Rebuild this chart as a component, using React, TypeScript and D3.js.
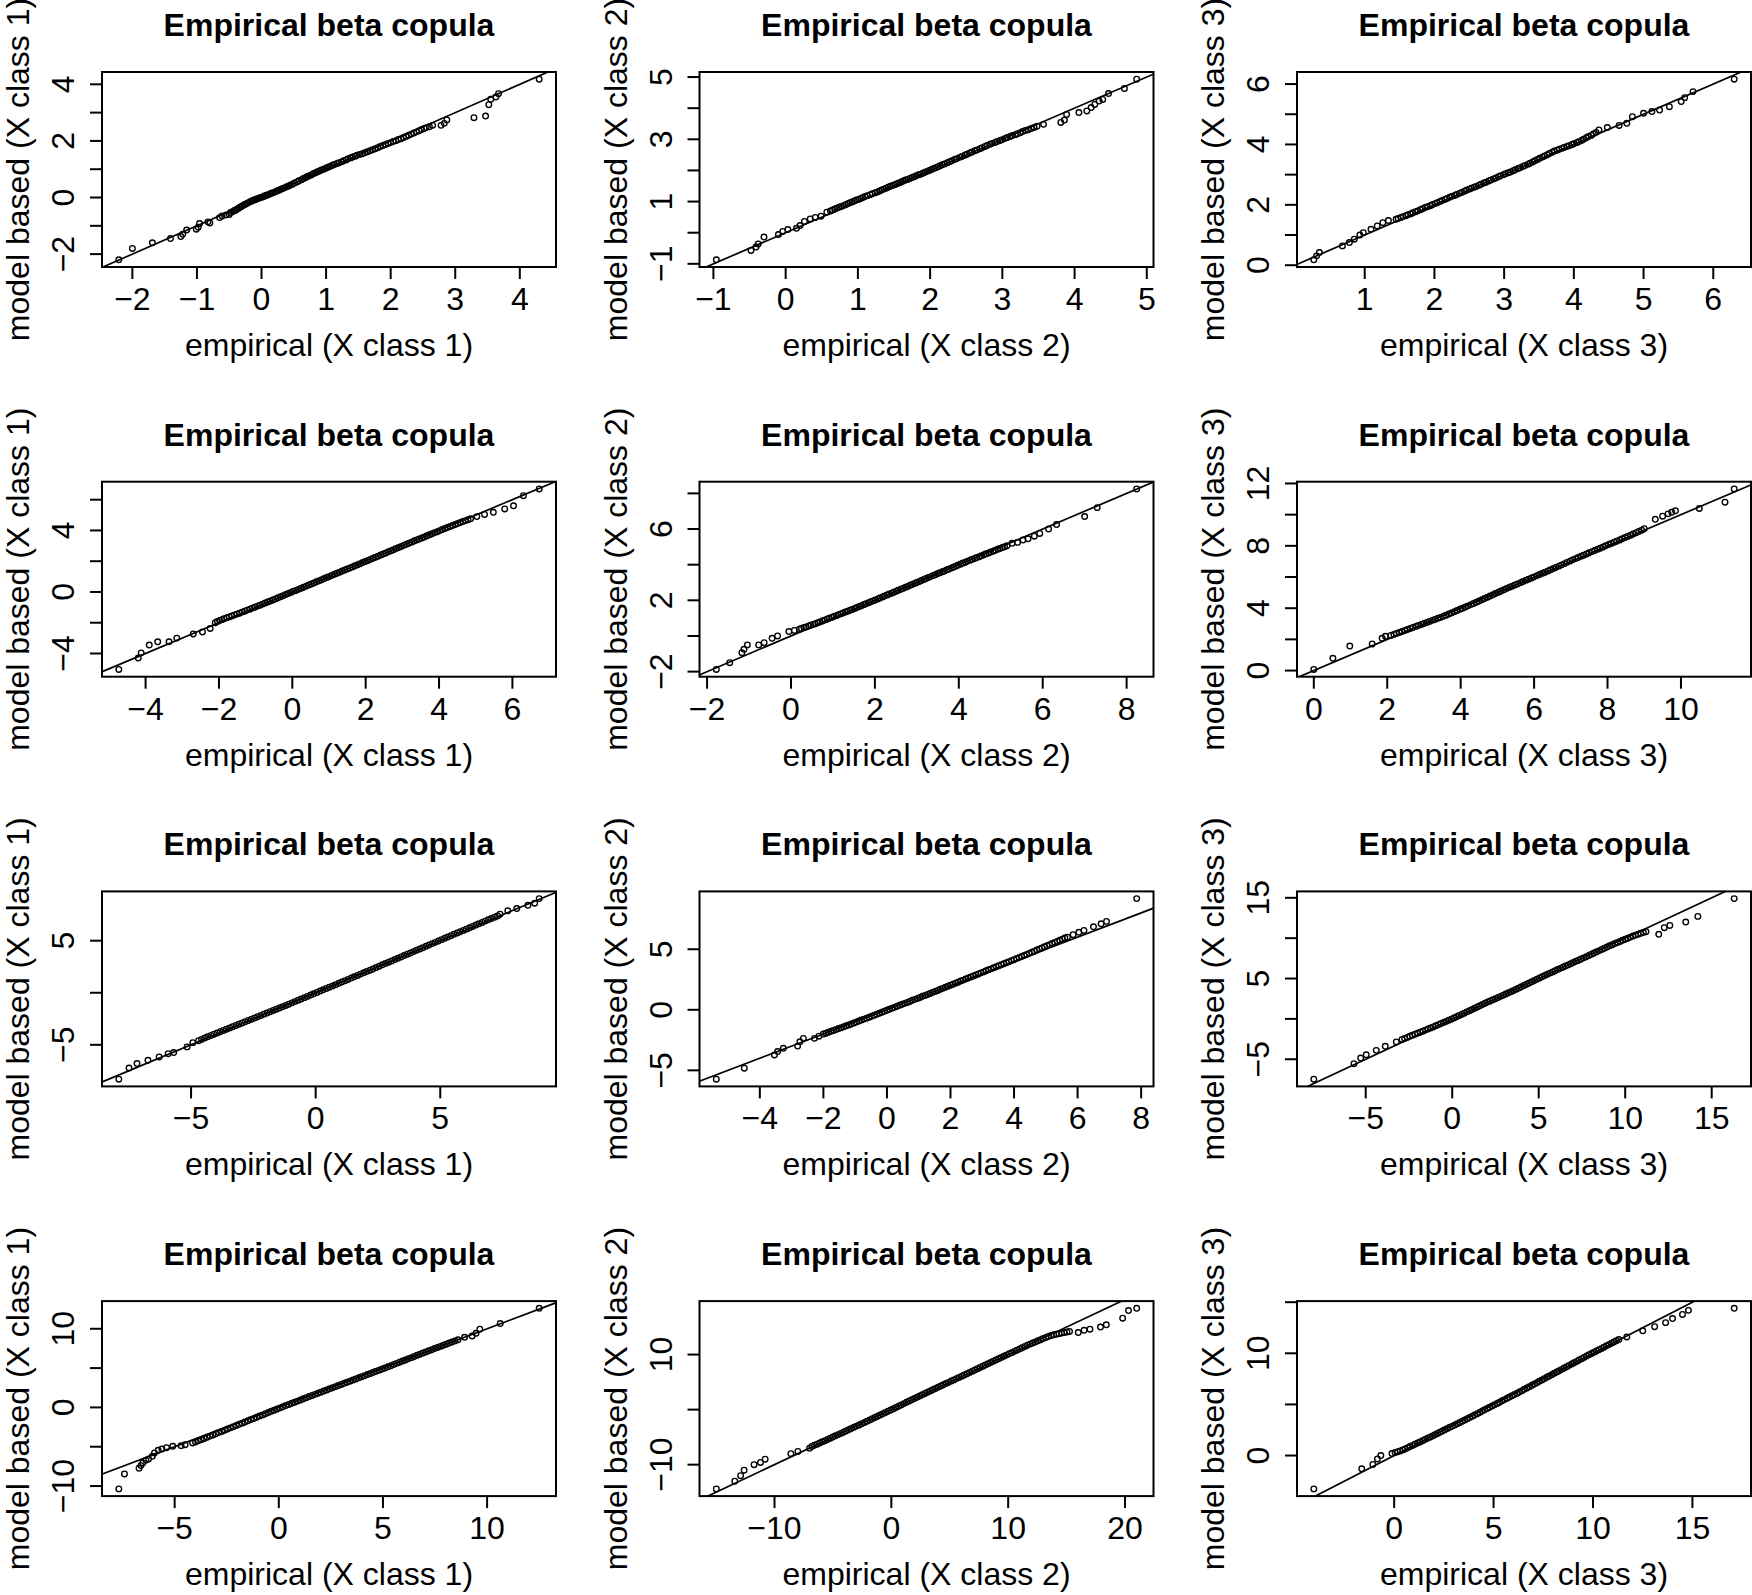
import React from 'react';
import * as d3 from 'd3';

const W = 1752;
const H = 1595;
const TITLE = 'Empirical beta copula';
const XLABELS = ['empirical (X class 1)', 'empirical (X class 2)', 'empirical (X class 3)'];
const YLABELS = ['model based (X class 1)', 'model based (X class 2)', 'model based (X class 3)'];

type P = [number, number][];

// row 1
const q11: P = [[-2.21,-2.2],[-2.0,-1.8],[-1.69,-1.6],[-1.41,-1.45],[-1.25,-1.38],[-1.22,-1.3],[-1.16,-1.15],[-1.01,-1.12],[-0.98,-1.05],[-0.96,-0.92],[-0.83,-0.86],[-0.8,-0.9],[-0.65,-0.71],[-0.61,-0.65],[-0.55,-0.62],[-0.5,-0.6],[-0.48,-0.53],
[-0.45,-0.5],[-0.42,-0.46],[-0.4,-0.45],[-0.38,-0.41],[-0.36,-0.39],[-0.34,-0.35],[-0.32,-0.33],[-0.3,-0.3],[-0.27,-0.26],[-0.25,-0.24],[-0.22,-0.2],[-0.2,-0.18],[-0.17,-0.14],[-0.15,-0.12],[-0.12,-0.09],[-0.1,-0.08],[-0.07,-0.05],[-0.05,-0.03],[-0.02,-0.01],[0.0,0.01],[0.03,0.03],[0.05,0.06],[0.08,0.08],[0.1,0.1],[0.13,0.12],[0.15,0.15],[0.18,0.17],[0.21,0.2],[0.24,0.23],[0.27,0.26],[0.3,0.29],[0.33,0.32],[0.36,0.35],[0.39,0.38],[0.42,0.41],[0.45,0.44],[0.48,0.47],[0.51,0.51],[0.55,0.55],[0.58,0.59],[0.62,0.63],[0.65,0.67],[0.68,0.7],[0.71,0.74],[0.74,0.77],[0.77,0.8],[0.8,0.84],[0.83,0.87],[0.86,0.9],[0.89,0.93],[0.92,0.96],[0.95,0.99],[0.98,1.02],[1.01,1.05],[1.04,1.08],[1.07,1.11],[1.1,1.14],[1.13,1.17],[1.17,1.2],[1.2,1.23],[1.24,1.26],[1.27,1.3],[1.31,1.33],[1.34,1.37],[1.38,1.4],[1.41,1.43],[1.45,1.46],[1.48,1.49],[1.52,1.52],[1.56,1.55],[1.6,1.58],[1.64,1.62],[1.68,1.65],[1.72,1.69],[1.76,1.72],[1.8,1.76],[1.84,1.8],[1.88,1.84],[1.92,1.87],[1.96,1.91],[2.0,1.94],[2.04,1.98],[2.08,2.01],[2.12,2.05],[2.16,2.08],[2.2,2.12],[2.24,2.16],[2.28,2.2],[2.32,2.24],[2.36,2.28],[2.4,2.32],[2.44,2.36],[2.48,2.4],[2.52,2.44],[2.55,2.47],
[2.6,2.5],[2.65,2.55],[2.78,2.55],[2.83,2.62],[2.87,2.74],[3.29,2.82],[3.47,2.88],[3.52,3.28],[3.55,3.47],[3.63,3.55],[3.67,3.67],[4.3,4.18]];
const xt11 = [-2,-1,0,1,2,3,4];
const yt11 = [-2,-1,0,1,2,3,4];
const yl11 = [-2,0,2,4];

const q12: P = [[-0.96,-0.87],[-0.48,-0.57],[-0.41,-0.46],[-0.38,-0.36],[-0.3,-0.14],[-0.1,-0.06],[-0.04,0.04],[0.03,0.1],[0.15,0.14],[0.2,0.23],[0.26,0.36],[0.34,0.44],[0.41,0.49],[0.49,0.53],[0.57,0.66],
[0.62,0.7],[0.65,0.73],[0.68,0.76],[0.71,0.79],[0.74,0.82],[0.77,0.84],[0.8,0.87],[0.83,0.9],[0.86,0.93],[0.89,0.96],[0.92,0.99],[0.95,1.02],[0.98,1.05],[1.01,1.07],[1.04,1.1],[1.07,1.13],[1.1,1.16],[1.13,1.19],[1.17,1.22],[1.2,1.25],[1.24,1.28],[1.27,1.31],[1.3,1.34],[1.33,1.37],[1.36,1.4],[1.39,1.43],[1.42,1.46],[1.45,1.49],[1.48,1.52],[1.51,1.54],[1.54,1.57],[1.57,1.6],[1.6,1.63],[1.63,1.66],[1.66,1.69],[1.69,1.71],[1.72,1.74],[1.75,1.77],[1.78,1.8],[1.81,1.83],[1.84,1.86],[1.87,1.88],[1.9,1.91],[1.93,1.94],[1.96,1.97],[1.99,2.0],[2.02,2.03],[2.05,2.06],[2.08,2.09],[2.11,2.12],[2.14,2.15],[2.17,2.18],[2.2,2.21],[2.24,2.25],[2.27,2.28],[2.3,2.31],[2.34,2.35],[2.37,2.38],[2.41,2.42],[2.44,2.45],[2.48,2.49],[2.51,2.52],[2.55,2.56],[2.58,2.59],[2.62,2.63],[2.65,2.66],[2.69,2.7],[2.72,2.73],[2.76,2.77],[2.79,2.8],[2.83,2.84],[2.86,2.87],[2.9,2.9],[2.93,2.93],[2.97,2.96],[3.0,2.99],[3.04,3.03],[3.07,3.06],[3.11,3.09],[3.14,3.12],[3.18,3.15],[3.21,3.18],[3.25,3.21],[3.28,3.25],[3.32,3.28],[3.36,3.31],[3.4,3.35],[3.44,3.38],[3.48,3.42],
[3.57,3.48],[3.81,3.54],[3.86,3.62],[3.89,3.8],[4.06,3.86],[4.17,3.91],[4.23,4.02],[4.28,4.12],[4.34,4.23],[4.39,4.28],[4.47,4.47],[4.69,4.63],[4.86,4.93]];
const xt12 = [-1,0,1,2,3,4,5];
const yt12 = [-1,0,1,2,3,4,5];
const yl12 = [-1,1,3,5];

const q13: P = [[0.27,0.18],[0.31,0.31],[0.35,0.42],[0.68,0.64],[0.78,0.75],[0.85,0.86],[0.93,1.0],[0.98,1.08],[1.09,1.19],[1.18,1.3],[1.26,1.41],[1.34,1.48],
[1.45,1.52],[1.48,1.55],[1.52,1.58],[1.55,1.61],[1.59,1.64],[1.62,1.67],[1.66,1.7],[1.69,1.74],[1.73,1.77],[1.76,1.8],[1.8,1.84],[1.83,1.87],[1.87,1.91],[1.9,1.94],[1.94,1.97],[1.97,2.0],[2.01,2.04],[2.04,2.07],[2.08,2.11],[2.11,2.14],[2.15,2.18],[2.18,2.21],[2.22,2.25],[2.25,2.28],[2.29,2.31],[2.32,2.34],[2.36,2.38],[2.39,2.41],[2.43,2.45],[2.46,2.48],[2.5,2.52],[2.53,2.55],[2.57,2.58],[2.6,2.61],[2.64,2.65],[2.67,2.68],[2.71,2.72],[2.74,2.75],[2.78,2.79],[2.81,2.82],[2.85,2.86],[2.88,2.89],[2.92,2.93],[2.95,2.96],[2.99,3.0],[3.02,3.03],[3.06,3.06],[3.09,3.09],[3.13,3.13],[3.16,3.16],[3.2,3.2],[3.23,3.23],[3.27,3.27],[3.3,3.3],[3.34,3.34],[3.37,3.38],[3.41,3.42],[3.44,3.46],[3.48,3.5],[3.51,3.54],[3.55,3.58],[3.58,3.62],[3.62,3.66],[3.65,3.7],[3.69,3.74],[3.72,3.78],[3.76,3.81],[3.79,3.84],[3.83,3.87],[3.86,3.9],[3.9,3.93],[3.93,3.96],[3.97,3.99],[4.0,4.02],[4.04,4.06],[4.07,4.09],[4.11,4.13],[4.14,4.17],[4.18,4.22],[4.21,4.26],[4.25,4.3],[4.28,4.35],[4.32,4.4],[4.36,4.48],
[4.48,4.56],[4.65,4.63],[4.76,4.7],[4.84,4.92],[5.0,5.03],[5.12,5.09],[5.23,5.14],[5.37,5.25],[5.54,5.42],[5.59,5.55],[5.71,5.75],[6.3,6.16]];
const xt13 = [1,2,3,4,5,6];
const yt13 = [0,1,2,3,4,5,6];
const yl13 = [0,2,4,6];

// row 2
const q21: P = [[-4.73,-5.04],[-4.2,-4.3],[-4.12,-3.96],[-3.9,-3.45],[-3.67,-3.24],[-3.36,-3.24],[-3.15,-3.0],[-2.7,-2.73],[-2.45,-2.6],[-2.24,-2.37],
[-2.1,-2.0],[-2.04,-1.92],[-1.98,-1.85],[-1.92,-1.8],[-1.86,-1.74],[-1.79,-1.68],[-1.72,-1.62],[-1.65,-1.56],[-1.58,-1.5],[-1.51,-1.44],[-1.44,-1.38],[-1.37,-1.31],[-1.3,-1.25],[-1.23,-1.18],[-1.16,-1.12],[-1.09,-1.05],[-1.02,-0.99],[-0.95,-0.92],[-0.88,-0.86],[-0.81,-0.79],[-0.74,-0.72],[-0.67,-0.65],[-0.6,-0.59],[-0.53,-0.52],[-0.46,-0.45],[-0.39,-0.38],[-0.32,-0.31],[-0.25,-0.24],[-0.18,-0.17],[-0.11,-0.1],[-0.04,-0.03],[0.03,0.04],[0.1,0.1],[0.17,0.17],[0.24,0.24],[0.31,0.31],[0.38,0.38],[0.45,0.45],[0.52,0.52],[0.59,0.59],[0.66,0.66],[0.73,0.73],[0.8,0.8],[0.87,0.87],[0.94,0.94],[1.01,1.01],[1.08,1.08],[1.15,1.15],[1.22,1.22],[1.29,1.29],[1.36,1.36],[1.43,1.43],[1.5,1.5],[1.57,1.56],[1.64,1.63],[1.71,1.7],[1.78,1.77],[1.85,1.84],[1.92,1.91],[1.99,1.98],[2.06,2.05],[2.13,2.12],[2.2,2.19],[2.27,2.26],[2.34,2.33],[2.41,2.4],[2.48,2.47],[2.55,2.54],[2.62,2.61],[2.69,2.68],[2.76,2.75],[2.83,2.82],[2.9,2.89],[2.97,2.96],[3.04,3.03],[3.11,3.1],[3.18,3.17],[3.25,3.24],[3.32,3.31],[3.39,3.38],[3.46,3.45],[3.53,3.51],[3.6,3.58],[3.67,3.65],[3.74,3.72],[3.81,3.79],[3.88,3.86],[3.95,3.92],[4.02,3.99],[4.09,4.06],[4.16,4.13],[4.23,4.19],[4.3,4.26],[4.37,4.32],[4.44,4.39],[4.51,4.45],[4.58,4.52],[4.65,4.58],[4.72,4.64],[4.79,4.7],[4.86,4.76],
[5.03,4.9],[5.24,5.04],[5.48,5.18],[5.79,5.4],[6.03,5.6],[6.3,6.26],[6.73,6.7]];
const xt21 = [-4,-2,0,2,4,6];
const yt21 = [-4,-2,0,2,4,6];
const yl21 = [-4,0,4];

const q22: P = [[-1.78,-1.88],[-1.46,-1.5],[-1.17,-0.94],[-1.12,-0.75],[-1.04,-0.5],[-0.77,-0.5],[-0.64,-0.38],[-0.45,-0.13],[-0.32,0.0],[-0.05,0.25],[0.08,0.31],
[0.2,0.38],[0.25,0.42],[0.31,0.47],[0.36,0.51],[0.42,0.56],[0.47,0.6],[0.53,0.65],[0.58,0.69],[0.64,0.74],[0.69,0.79],[0.75,0.84],[0.8,0.89],[0.86,0.94],[0.91,0.99],[0.97,1.04],[1.02,1.09],[1.08,1.14],[1.13,1.19],[1.19,1.24],[1.24,1.29],[1.3,1.34],[1.35,1.39],[1.41,1.44],[1.46,1.49],[1.52,1.54],[1.57,1.6],[1.63,1.65],[1.68,1.7],[1.74,1.76],[1.79,1.81],[1.85,1.87],[1.9,1.92],[1.96,1.97],[2.01,2.02],[2.07,2.08],[2.12,2.13],[2.18,2.19],[2.23,2.24],[2.29,2.3],[2.34,2.35],[2.4,2.4],[2.45,2.45],[2.51,2.51],[2.56,2.56],[2.62,2.62],[2.67,2.67],[2.73,2.73],[2.78,2.78],[2.84,2.84],[2.89,2.89],[2.95,2.95],[3.0,3.0],[3.06,3.06],[3.11,3.11],[3.17,3.17],[3.22,3.22],[3.28,3.28],[3.33,3.33],[3.39,3.39],[3.44,3.44],[3.5,3.5],[3.55,3.55],[3.61,3.6],[3.66,3.65],[3.72,3.71],[3.77,3.76],[3.83,3.82],[3.88,3.87],[3.94,3.93],[3.99,3.98],[4.05,4.04],[4.1,4.09],[4.16,4.14],[4.21,4.2],[4.27,4.25],[4.32,4.3],[4.38,4.35],[4.43,4.4],[4.49,4.45],[4.54,4.5],[4.6,4.56],[4.65,4.61],[4.71,4.66],[4.76,4.71],[4.82,4.76],[4.87,4.81],[4.93,4.86],[4.98,4.91],[5.04,4.96],[5.09,5.01],[5.15,5.06],
[5.27,5.2],[5.4,5.25],[5.53,5.38],[5.65,5.45],[5.8,5.6],[5.93,5.75],[6.14,6.0],[6.33,6.25],[7.0,6.7],[7.3,7.2],[8.24,8.25]];
const xt22 = [-2,0,2,4,6,8];
const yt22 = [-2,0,2,4,6,8];
const yl22 = [-2,2,6];

const q23: P = [[0.0,0.07],[0.52,0.79],[0.98,1.57],[1.59,1.71],[1.86,2.07],[1.95,2.2],
[2.1,2.25],[2.18,2.32],[2.25,2.38],[2.33,2.44],[2.4,2.5],[2.48,2.57],[2.55,2.63],[2.63,2.7],[2.7,2.76],[2.78,2.83],[2.85,2.89],[2.93,2.96],[3.0,3.02],[3.08,3.09],[3.15,3.15],[3.23,3.22],[3.3,3.28],[3.38,3.35],[3.45,3.41],[3.53,3.48],[3.6,3.55],[3.68,3.63],[3.75,3.7],[3.83,3.78],[3.9,3.85],[3.98,3.93],[4.05,4.0],[4.13,4.08],[4.2,4.15],[4.28,4.23],[4.35,4.3],[4.43,4.38],[4.5,4.46],[4.58,4.54],[4.65,4.62],[4.73,4.7],[4.8,4.78],[4.88,4.86],[4.95,4.94],[5.03,5.02],[5.1,5.1],[5.18,5.18],[5.25,5.26],[5.33,5.34],[5.4,5.41],[5.48,5.49],[5.55,5.56],[5.63,5.64],[5.7,5.71],[5.78,5.79],[5.85,5.86],[5.93,5.94],[6.0,6.01],[6.08,6.09],[6.15,6.16],[6.23,6.24],[6.3,6.31],[6.38,6.39],[6.45,6.46],[6.53,6.54],[6.6,6.62],[6.68,6.7],[6.75,6.78],[6.83,6.86],[6.9,6.94],[6.98,7.02],[7.05,7.1],[7.13,7.18],[7.2,7.25],[7.28,7.33],[7.35,7.4],[7.43,7.48],[7.5,7.55],[7.58,7.63],[7.65,7.7],[7.73,7.78],[7.8,7.85],[7.88,7.93],[7.95,8.0],[8.03,8.08],[8.1,8.15],[8.18,8.23],[8.25,8.3],[8.33,8.38],[8.4,8.45],[8.48,8.53],[8.55,8.6],[8.63,8.68],[8.7,8.76],[8.78,8.84],[8.85,8.92],[8.93,9.0],[9.0,9.1],
[9.3,9.7],[9.5,9.9],[9.65,10.05],[9.75,10.15],[9.85,10.25],[10.5,10.4],[11.2,10.8],[11.45,11.65]];
const xt23 = [0,2,4,6,8,10];
const yt23 = [0,2,4,6,8,10,12];
const yl23 = [0,4,8,12];

// row 3
const q31: P = [[-7.9,-8.3],[-7.49,-7.23],[-7.17,-6.8],[-6.73,-6.49],[-6.28,-6.17],[-5.92,-5.85],[-5.7,-5.74],[-5.16,-5.2],[-4.93,-4.79],
[-4.7,-4.6],[-4.58,-4.48],[-4.45,-4.35],[-4.33,-4.23],[-4.2,-4.1],[-4.08,-3.98],[-3.95,-3.86],[-3.83,-3.74],[-3.7,-3.62],[-3.58,-3.5],[-3.45,-3.38],[-3.33,-3.26],[-3.2,-3.14],[-3.08,-3.02],[-2.95,-2.9],[-2.83,-2.78],[-2.7,-2.66],[-2.58,-2.54],[-2.45,-2.42],[-2.33,-2.3],[-2.2,-2.18],[-2.08,-2.06],[-1.95,-1.94],[-1.83,-1.82],[-1.7,-1.7],[-1.58,-1.58],[-1.45,-1.46],[-1.33,-1.34],[-1.2,-1.22],[-1.08,-1.1],[-0.95,-0.97],[-0.83,-0.85],[-0.7,-0.72],[-0.58,-0.6],[-0.45,-0.47],[-0.33,-0.35],[-0.2,-0.22],[-0.08,-0.1],[0.05,0.03],[0.18,0.16],[0.3,0.28],[0.43,0.41],[0.55,0.53],[0.68,0.66],[0.8,0.78],[0.93,0.91],[1.05,1.03],[1.18,1.16],[1.3,1.28],[1.43,1.41],[1.55,1.53],[1.68,1.66],[1.8,1.79],[1.93,1.92],[2.05,2.04],[2.18,2.17],[2.3,2.29],[2.43,2.42],[2.55,2.55],[2.68,2.68],[2.8,2.8],[2.93,2.93],[3.05,3.06],[3.18,3.19],[3.3,3.31],[3.43,3.44],[3.55,3.57],[3.68,3.7],[3.8,3.82],[3.93,3.95],[4.05,4.08],[4.18,4.21],[4.3,4.33],[4.43,4.46],[4.55,4.59],[4.68,4.72],[4.8,4.84],[4.93,4.97],[5.05,5.1],[5.18,5.23],[5.3,5.35],[5.43,5.48],[5.55,5.61],[5.68,5.74],[5.8,5.86],[5.93,5.99],[6.05,6.11],[6.18,6.24],[6.3,6.37],[6.43,6.5],[6.55,6.62],[6.68,6.75],[6.8,6.88],[6.93,7.01],[7.05,7.13],[7.18,7.26],[7.3,7.38],
[7.4,7.55],[7.71,7.87],[8.07,8.09],[8.52,8.4],[8.79,8.6],[8.97,9.04]];
const xt31 = [-5,0,5];
const yt31 = [-5,0,5];
const yl31 = [-5,5];

const q32: P = [[-5.37,-5.73],[-4.49,-4.82],[-3.54,-3.73],[-3.44,-3.45],[-3.26,-3.18],[-2.81,-3.0],[-2.74,-2.64],[-2.63,-2.36],[-2.28,-2.36],[-2.14,-2.18],
[-2.0,-2.0],[-1.92,-1.93],[-1.84,-1.86],[-1.76,-1.78],[-1.68,-1.71],[-1.6,-1.63],[-1.52,-1.55],[-1.44,-1.48],[-1.36,-1.4],[-1.28,-1.32],[-1.2,-1.25],[-1.12,-1.17],[-1.04,-1.09],[-0.96,-1.01],[-0.88,-0.93],[-0.8,-0.85],[-0.72,-0.77],[-0.64,-0.69],[-0.56,-0.61],[-0.48,-0.53],[-0.4,-0.45],[-0.32,-0.37],[-0.24,-0.29],[-0.16,-0.2],[-0.08,-0.12],[0.0,-0.04],[0.08,0.04],[0.16,0.12],[0.24,0.2],[0.32,0.29],[0.4,0.37],[0.48,0.45],[0.56,0.53],[0.64,0.61],[0.72,0.69],[0.8,0.78],[0.88,0.86],[0.96,0.94],[1.04,1.02],[1.12,1.11],[1.2,1.19],[1.28,1.27],[1.36,1.35],[1.44,1.44],[1.52,1.52],[1.6,1.6],[1.68,1.69],[1.76,1.77],[1.84,1.86],[1.92,1.94],[2.0,2.03],[2.08,2.11],[2.16,2.2],[2.24,2.28],[2.32,2.37],[2.4,2.45],[2.48,2.54],[2.56,2.62],[2.64,2.71],[2.72,2.79],[2.8,2.88],[2.88,2.96],[2.96,3.05],[3.04,3.13],[3.12,3.22],[3.2,3.3],[3.28,3.38],[3.36,3.47],[3.44,3.55],[3.52,3.64],[3.6,3.72],[3.68,3.8],[3.76,3.89],[3.84,3.97],[3.92,4.06],[4.0,4.14],[4.08,4.23],[4.16,4.31],[4.24,4.4],[4.32,4.48],[4.4,4.57],[4.48,4.66],[4.56,4.75],[4.64,4.84],[4.72,4.93],[4.8,5.02],[4.88,5.11],[4.96,5.2],[5.04,5.29],[5.12,5.38],[5.2,5.47],[5.28,5.56],[5.36,5.65],[5.44,5.74],[5.52,5.83],[5.6,5.92],[5.68,6.0],
[5.86,6.2],[6.04,6.4],[6.2,6.55],[6.5,6.85],[6.74,7.1],[6.91,7.3],[7.86,9.18]];
const xt32 = [-4,-2,0,2,4,6,8];
const yt32 = [-5,0,5];
const yl32 = [-5,0,5];

const q33: P = [[-8.0,-7.47],[-5.68,-5.55],[-5.29,-4.85],[-4.97,-4.45],[-4.39,-3.9],[-3.87,-3.4],[-3.23,-2.85],
[-2.9,-2.55],[-2.75,-2.42],[-2.6,-2.3],[-2.45,-2.16],[-2.3,-2.03],[-2.15,-1.9],[-2.0,-1.78],[-1.85,-1.65],[-1.7,-1.52],[-1.55,-1.39],[-1.4,-1.26],[-1.25,-1.13],[-1.1,-1.0],[-0.95,-0.86],[-0.8,-0.72],[-0.65,-0.58],[-0.5,-0.45],[-0.35,-0.31],[-0.2,-0.17],[-0.05,-0.03],[0.1,0.12],[0.25,0.27],[0.4,0.42],[0.55,0.56],[0.7,0.71],[0.85,0.87],[1.0,1.02],[1.15,1.16],[1.3,1.31],[1.45,1.47],[1.6,1.62],[1.75,1.78],[1.9,1.93],[2.05,2.08],[2.2,2.22],[2.35,2.36],[2.5,2.5],[2.65,2.65],[2.8,2.79],[2.95,2.94],[3.1,3.08],[3.25,3.23],[3.4,3.37],[3.55,3.52],[3.7,3.68],[3.85,3.83],[4.0,3.98],[4.15,4.14],[4.3,4.29],[4.45,4.45],[4.6,4.6],[4.75,4.76],[4.9,4.91],[5.05,5.07],[5.2,5.22],[5.35,5.37],[5.5,5.52],[5.65,5.67],[5.8,5.82],[5.95,5.97],[6.1,6.11],[6.25,6.26],[6.4,6.4],[6.55,6.55],[6.7,6.69],[6.85,6.84],[7.0,6.98],[7.15,7.13],[7.3,7.27],[7.45,7.42],[7.6,7.56],[7.75,7.71],[7.9,7.86],[8.05,8.01],[8.2,8.16],[8.35,8.31],[8.5,8.46],[8.65,8.61],[8.8,8.76],[8.95,8.9],[9.1,9.05],[9.25,9.19],[9.4,9.33],[9.55,9.47],[9.7,9.6],[9.85,9.74],[10.0,9.87],[10.15,10.0],[10.3,10.13],[10.45,10.26],[10.6,10.38],[10.75,10.49],[10.9,10.6],[11.05,10.7],[11.2,10.8],
[11.94,10.48],[12.26,11.3],[12.58,11.58],[13.5,12.0],[14.2,12.7],[16.3,14.9]];
const xt33 = [-5,0,5,10,15];
const yt33 = [-5,0,5,10,15];
const yl33 = [-5,5,15];

// row 4
const q41: P = [[-7.68,-10.36],[-7.41,-8.46],[-6.71,-7.74],[-6.62,-7.4],[-6.53,-7.06],[-6.38,-6.72],[-6.25,-6.55],[-6.07,-6.22],[-5.97,-5.79],[-5.79,-5.45],[-5.61,-5.29],[-5.39,-5.12],[-5.09,-4.95],[-4.69,-4.86],[-4.5,-4.74],[-4.14,-4.52],
[-4.0,-4.4],[-3.86,-4.25],[-3.72,-4.1],[-3.58,-3.95],[-3.44,-3.8],[-3.3,-3.65],[-3.16,-3.5],[-3.02,-3.35],[-2.88,-3.2],[-2.74,-3.05],[-2.6,-2.9],[-2.46,-2.75],[-2.32,-2.6],[-2.18,-2.45],[-2.04,-2.3],[-1.9,-2.15],[-1.76,-2.0],[-1.62,-1.85],[-1.48,-1.7],[-1.34,-1.55],[-1.2,-1.4],[-1.06,-1.25],[-0.92,-1.1],[-0.78,-0.95],[-0.64,-0.8],[-0.5,-0.65],[-0.36,-0.5],[-0.22,-0.35],[-0.08,-0.2],[0.06,-0.06],[0.2,0.08],[0.34,0.23],[0.48,0.38],[0.62,0.52],[0.76,0.66],[0.9,0.8],[1.04,0.95],[1.18,1.09],[1.32,1.24],[1.46,1.38],[1.6,1.52],[1.74,1.66],[1.88,1.8],[2.02,1.94],[2.16,2.08],[2.3,2.22],[2.44,2.36],[2.58,2.5],[2.72,2.64],[2.86,2.78],[3.0,2.92],[3.14,3.06],[3.28,3.2],[3.42,3.34],[3.56,3.48],[3.7,3.62],[3.84,3.76],[3.98,3.9],[4.12,4.04],[4.26,4.18],[4.4,4.32],[4.54,4.46],[4.68,4.6],[4.82,4.74],[4.96,4.88],[5.1,5.02],[5.24,5.17],[5.38,5.31],[5.52,5.46],[5.66,5.6],[5.8,5.75],[5.94,5.9],[6.08,6.04],[6.22,6.19],[6.36,6.33],[6.5,6.48],[6.64,6.62],[6.78,6.77],[6.92,6.91],[7.06,7.05],[7.2,7.2],[7.34,7.34],[7.48,7.48],[7.62,7.62],[7.76,7.76],[7.9,7.9],[8.04,8.04],[8.18,8.18],[8.32,8.32],[8.46,8.46],[8.6,8.6],
[8.92,8.92],[9.28,9.09],[9.47,9.43],[9.65,9.94],[10.63,10.66],[12.5,12.6]];
const xt41 = [-5,0,5,10];
const yt41 = [-10,-5,0,5,10];
const yl41 = [-10,0,10];

const q42: P = [[-14.98,-14.4],[-13.4,-13.0],[-12.9,-12.0],[-12.6,-11.0],[-11.75,-10.0],[-11.2,-9.6],[-10.8,-9.0],[-8.6,-8.0],[-8.0,-7.6],[-7.0,-7.0],
[-6.8,-6.7],[-6.58,-6.49],[-6.35,-6.28],[-6.13,-6.07],[-5.9,-5.85],[-5.68,-5.64],[-5.45,-5.42],[-5.23,-5.2],[-5.0,-4.98],[-4.78,-4.76],[-4.55,-4.54],[-4.33,-4.32],[-4.1,-4.1],[-3.88,-3.88],[-3.65,-3.66],[-3.43,-3.44],[-3.2,-3.22],[-2.98,-3.0],[-2.75,-2.78],[-2.53,-2.56],[-2.3,-2.33],[-2.08,-2.11],[-1.85,-1.88],[-1.63,-1.66],[-1.4,-1.43],[-1.18,-1.21],[-0.95,-0.98],[-0.73,-0.75],[-0.5,-0.52],[-0.28,-0.29],[-0.05,-0.06],[0.18,0.17],[0.4,0.4],[0.63,0.63],[0.85,0.86],[1.08,1.09],[1.3,1.32],[1.53,1.55],[1.75,1.78],[1.98,2.01],[2.2,2.24],[2.43,2.47],[2.65,2.7],[2.88,2.93],[3.1,3.15],[3.33,3.38],[3.55,3.6],[3.78,3.83],[4.0,4.05],[4.23,4.28],[4.45,4.5],[4.68,4.73],[4.9,4.95],[5.13,5.18],[5.35,5.4],[5.58,5.63],[5.8,5.85],[6.03,6.08],[6.25,6.3],[6.48,6.53],[6.7,6.75],[6.93,6.98],[7.15,7.2],[7.38,7.43],[7.6,7.65],[7.83,7.88],[8.05,8.1],[8.28,8.33],[8.5,8.55],[8.73,8.78],[8.95,9.0],[9.18,9.23],[9.4,9.45],[9.63,9.68],[9.85,9.9],[10.08,10.13],[10.3,10.35],[10.53,10.58],[10.75,10.8],[10.98,11.03],[11.2,11.25],[11.43,11.48],[11.65,11.7],[11.88,11.9],[12.1,12.1],[12.33,12.3],[12.55,12.5],[12.78,12.7],[13.0,12.9],[13.23,13.1],[13.45,13.3],[13.68,13.45],[13.9,13.6],[14.13,13.7],[14.35,13.8],[14.58,13.9],[14.8,14.0],[15.03,14.1],[15.25,14.2],
[16.0,14.0],[16.5,14.4],[17.0,14.6],[17.9,15.0],[18.4,15.4],[19.8,16.6],[20.3,18.0],[21.0,18.4]];
const xt42 = [-10,0,10,20];
const yt42 = [-10,0,10];
const yl42 = [-10,10];

const q43: P = [[-4.04,-3.26],[-1.63,-1.3],[-1.07,-0.87],[-0.84,-0.33],[-0.67,0.0],[-0.11,0.2],
[0.05,0.3],[0.18,0.38],[0.3,0.45],[0.43,0.55],[0.55,0.65],[0.68,0.76],[0.8,0.88],[0.93,0.99],[1.05,1.1],[1.18,1.22],[1.3,1.33],[1.43,1.45],[1.55,1.57],[1.68,1.69],[1.8,1.8],[1.93,1.92],[2.05,2.04],[2.18,2.16],[2.3,2.28],[2.43,2.4],[2.55,2.52],[2.68,2.64],[2.8,2.76],[2.93,2.88],[3.05,3.0],[3.18,3.12],[3.3,3.24],[3.43,3.36],[3.55,3.48],[3.68,3.6],[3.8,3.72],[3.93,3.85],[4.05,3.97],[4.18,4.1],[4.3,4.22],[4.43,4.35],[4.55,4.47],[4.68,4.6],[4.8,4.72],[4.93,4.85],[5.05,4.97],[5.18,5.1],[5.3,5.22],[5.43,5.35],[5.55,5.47],[5.68,5.6],[5.8,5.72],[5.93,5.85],[6.05,5.97],[6.18,6.1],[6.3,6.22],[6.43,6.35],[6.55,6.48],[6.68,6.61],[6.8,6.74],[6.93,6.87],[7.05,7.0],[7.18,7.13],[7.3,7.26],[7.43,7.39],[7.55,7.52],[7.68,7.65],[7.8,7.78],[7.93,7.91],[8.05,8.04],[8.18,8.17],[8.3,8.3],[8.43,8.43],[8.55,8.56],[8.68,8.69],[8.8,8.82],[8.93,8.95],[9.05,9.08],[9.18,9.21],[9.3,9.34],[9.43,9.47],[9.55,9.6],[9.68,9.73],[9.8,9.86],[9.93,9.98],[10.05,10.1],[10.18,10.23],[10.3,10.36],[10.43,10.48],[10.55,10.6],[10.68,10.73],[10.8,10.85],[10.93,10.98],[11.05,11.1],[11.18,11.23],[11.3,11.35],
[11.7,11.6],[12.5,12.2],[13.1,12.6],[13.65,13.0],[14.0,13.4],[14.5,13.8],[14.8,14.2],[17.1,14.4]];
const xt43 = [0,5,10,15];
const yt43 = [0,5,10,15];
const yl43 = [0,10];

const panelData = [
  { q: q11, xt: xt11, yt: yt11, yl: yl11 },
  { q: q12, xt: xt12, yt: yt12, yl: yl12 },
  { q: q13, xt: xt13, yt: yt13, yl: yl13 },
  { q: q21, xt: xt21, yt: yt21, yl: yl21 },
  { q: q22, xt: xt22, yt: yt22, yl: yl22 },
  { q: q23, xt: xt23, yt: yt23, yl: yl23 },
  { q: q31, xt: xt31, yt: yt31, yl: yl31 },
  { q: q32, xt: xt32, yt: yt32, yl: yl32 },
  { q: q33, xt: xt33, yt: yt33, yl: yl33 },
  { q: q41, xt: xt41, yt: yt41, yl: yl41 },
  { q: q42, xt: xt42, yt: yt42, yl: yl42 },
  { q: q43, xt: xt43, yt: yt43, yl: yl43 },
];

const FONT = '"Liberation Sans", Arial, Helvetica, sans-serif';
const FS = 32;
const LEFT0 = 102;
const COL_STEP = 597.5;
const TOP0 = 72;
const ROW_STEP = 409.7;
const PW = 454;
const PH = 195;

const fmt = (v: number) => (v < 0 ? '\u2212' + Math.abs(v) : String(v));

function Panel({ idx }: { idx: number }) {
  const d = panelData[idx];
  const col = idx % 3;
  const row = Math.floor(idx / 3);
  const left = LEFT0 + col * COL_STEP;
  const top = TOP0 + row * ROW_STEP;
  const right = left + PW;
  const bottom = top + PH;
  const [xa, xb] = d3.extent(d.q, (p) => p[0]) as [number, number];
  const [ya, yb] = d3.extent(d.q, (p) => p[1]) as [number, number];
  const dx = (xb - xa) * 0.04;
  const dy = (yb - ya) * 0.04;
  const x = d3.scaleLinear().domain([xa - dx, xb + dx]).range([left, right]);
  const y = d3.scaleLinear().domain([ya - dy, yb + dy]).range([bottom, top]);
  const lo = Math.min(xa - dx, ya - dy) - 1;
  const hi = Math.max(xb + dx, yb + dy) + 1;
  const line = d3.line<number>().x((v) => x(v)).y((v) => y(v))([lo, hi]) || '';
  const clipId = `clip${idx}`;
  return (
    <g>
      <defs>
        <clipPath id={clipId}>
          <rect x={left} y={top} width={PW} height={PH} />
        </clipPath>
      </defs>
      <g clipPath={`url(#${clipId})`}>
        <path d={line} stroke="#000" strokeWidth={1.7} fill="none" />
        {d.q.map((p, i) => (
          <circle key={i} cx={x(p[0])} cy={y(p[1])} r={2.8} fill="none" stroke="#000" strokeWidth={1.35} />
        ))}
      </g>
      <rect x={left} y={top} width={PW} height={PH} fill="none" stroke="#000" strokeWidth={2} />
      {d.xt.map((t) => (
        <g key={'x' + t}>
          <line x1={x(t)} x2={x(t)} y1={bottom} y2={bottom + 12} stroke="#000" strokeWidth={2} />
          <text x={x(t)} y={bottom + 43} textAnchor="middle" fontSize={FS}>{fmt(t)}</text>
        </g>
      ))}
      {d.yt.map((t) => (
        <line key={'y' + t} x1={left - 12} x2={left} y1={y(t)} y2={y(t)} stroke="#000" strokeWidth={2} />
      ))}
      {d.yl.map((t) => (
        <text key={'yl' + t} transform={`translate(${left - 28},${y(t)}) rotate(-90)`} textAnchor="middle" fontSize={FS}>{fmt(t)}</text>
      ))}
      <text x={(left + right) / 2} y={top - 36} textAnchor="middle" fontSize={FS} fontWeight="bold">{TITLE}</text>
      <text x={(left + right) / 2} y={bottom + 89} textAnchor="middle" fontSize={FS}>{XLABELS[col]}</text>
      <text transform={`translate(${left - 73},${(top + bottom) / 2}) rotate(-90)`} textAnchor="middle" fontSize={FS}>{YLABELS[col]}</text>
    </g>
  );
}

export default function App() {
  return (
    <svg width={W} height={H} viewBox={`0 0 ${W} ${H}`} style={{ position: 'absolute', left: 0, top: 0, background: '#fff' }} fontFamily={FONT}>
      <rect x={0} y={0} width={W} height={H} fill="#fff" />
      {panelData.map((_, i) => (
        <Panel key={i} idx={i} />
      ))}
    </svg>
  );
}
